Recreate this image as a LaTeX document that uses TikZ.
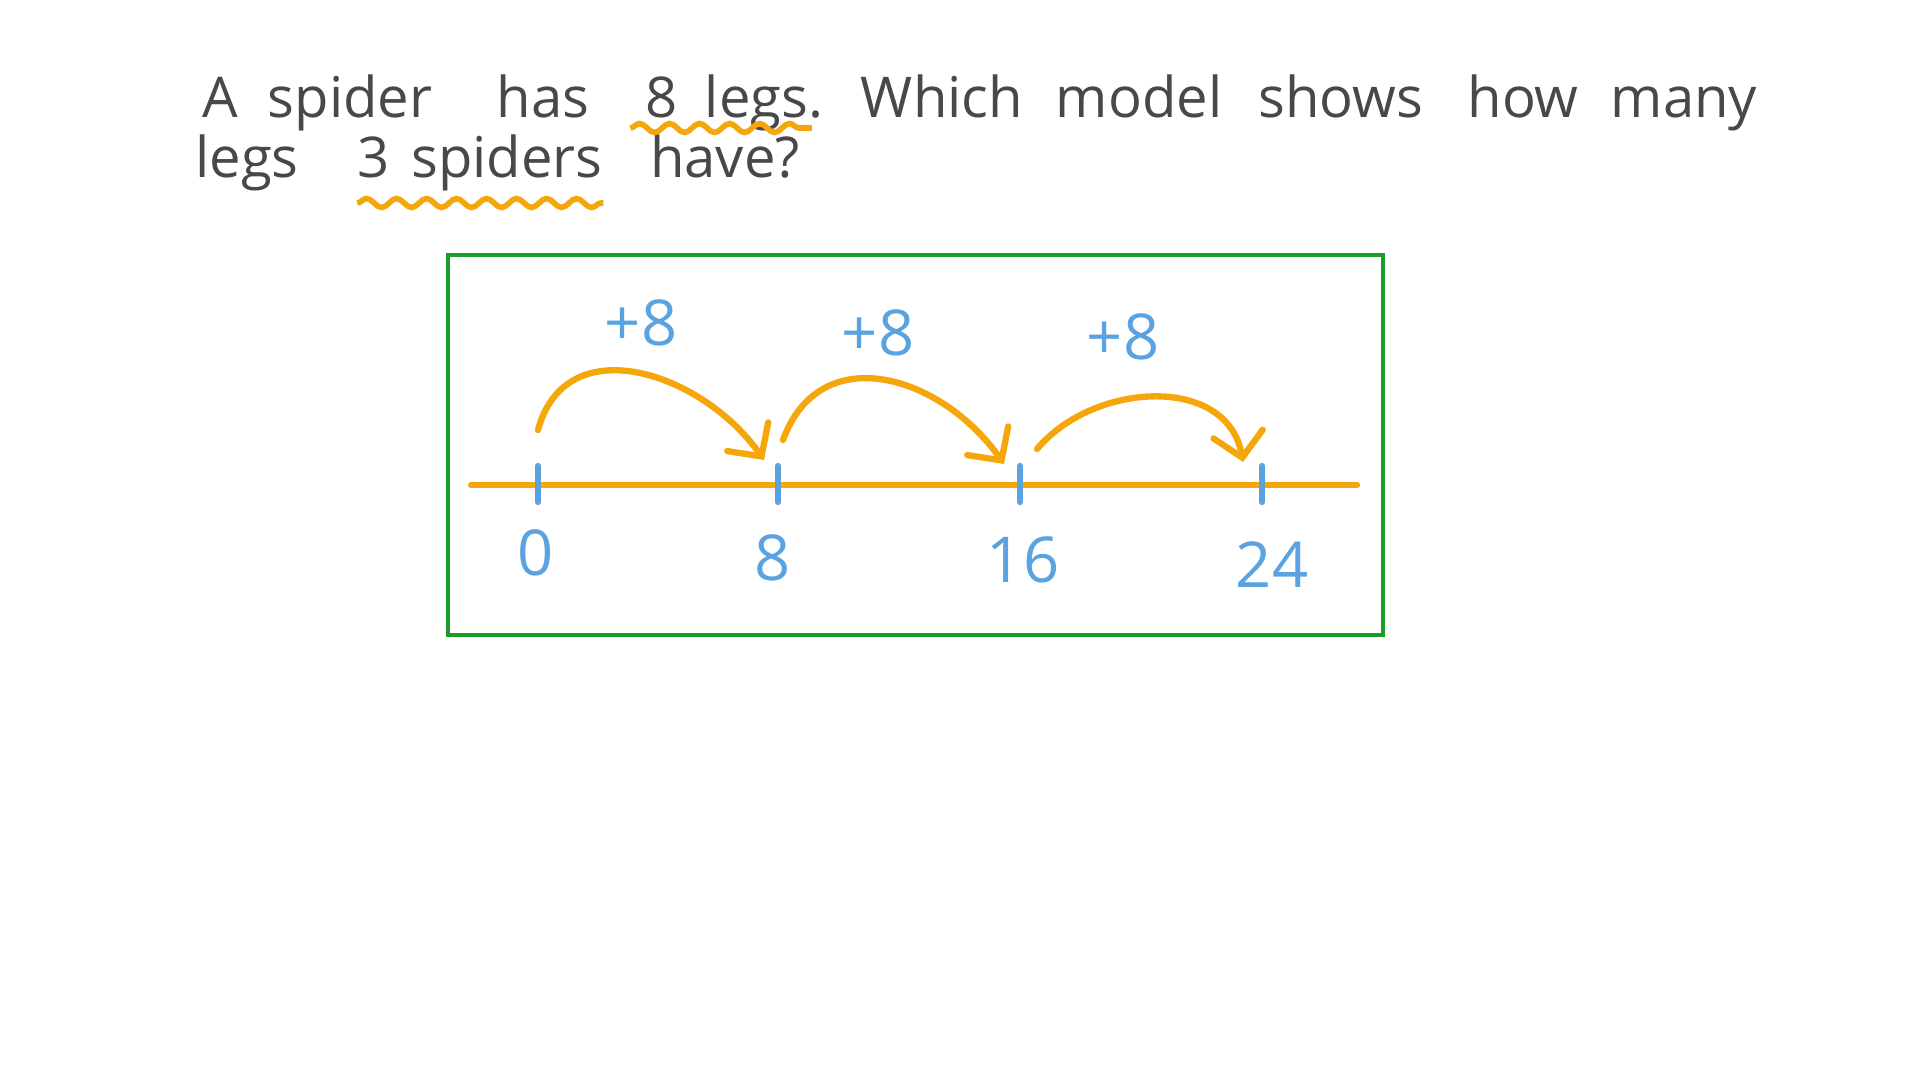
\documentclass[tikz,border=0pt]{standalone}
\usepackage{fontspec}
\setmainfont{Open Sans}
\usetikzlibrary{arrows.meta,decorations.pathmorphing}
\definecolor{inkgray}{RGB}{72,72,72}
\definecolor{jumporange}{RGB}{245,166,10}
\definecolor{tickblue}{RGB}{90,162,224}
\definecolor{boxgreen}{RGB}{24,158,40}
\tikzset{
	word/.style={anchor=base,inner sep=0pt,text=inkgray,font=\fontsize{16}{19}\selectfont},
	squiggle/.style={jumporange,line width=1.6pt,decorate,decoration={snake,amplitude=0.045cm,segment length=0.3cm}},
	numline/.style={jumporange,line width=1.8pt,line cap=round},
	tickmark/.style={tickblue,line width=1.8pt,line cap=round},
	jump/.style={jumporange,line width=1.8pt,line cap=round,-{Straight Barb[length=2.4mm,width=5mm,line cap=round]}},
	numlabel/.style={text=tickblue,inner sep=0pt,font=\fontsize{18}{22}\selectfont}
}

\begin{document}
\begin{tikzpicture}[x=1cm,y=-1cm]
	\useasboundingbox (0,0) rectangle (19.2,10.8);
	% question
	\node[word] (qA) at (2.20,1.18) {A};
	\node[word] (qspider) at (3.50,1.18) {spider};
	\node[word] (qhas) at (5.43,1.18) {has};
	\node[word] (q8) at (6.62,1.18) {8};
	\node[word] (qlegs) at (7.64,1.18) {legs.};
	\node[word] (qwhich) at (9.42,1.18) {Which};
	\node[word] (qmodel) at (11.39,1.18) {model};
	\node[word] (qshows) at (13.41,1.18) {shows};
	\node[word] (qhow) at (15.23,1.18) {how};
	\node[word] (qmany) at (16.84,1.18) {many};
	\node[word] (qlegsb) at (2.47,1.78) {legs};
	\node[word] (q3) at (3.74,1.78) {3};
	\node[word] (qspiders) at (5.07,1.78) {spiders};
	\node[word] (qhave) at (7.25,1.78) {have?};
	\draw[squiggle] ([xshift=-0.15cm,yshift=-0.1cm]q8.base west) -- ([xshift=-0.12cm,yshift=-0.1cm]qlegs.base east);
	\draw[squiggle] ([yshift=-0.25cm]q3.base west) -- ([yshift=-0.25cm]qspiders.base east);
	% model
	\draw[boxgreen,line width=1.4pt] (4.48,2.55) rectangle (13.83,6.35);
	\coordinate (nlA) at (4.71,4.85);
	\coordinate (nlB) at (13.57,4.85);
	\draw[numline] (nlA) -- (nlB);
	\coordinate (t0) at (5.38,4.85);
	\coordinate (t1) at (7.78,4.85);
	\coordinate (t2) at (10.20,4.85);
	\coordinate (t3) at (12.62,4.85);
	\draw[tickmark] ([yshift=0.19cm]t0) -- ([yshift=-0.17cm]t0);
	\draw[tickmark] ([yshift=0.19cm]t1) -- ([yshift=-0.17cm]t1);
	\draw[tickmark] ([yshift=0.19cm]t2) -- ([yshift=-0.17cm]t2);
	\draw[tickmark] ([yshift=0.19cm]t3) -- ([yshift=-0.17cm]t3);
	\node[numlabel] (l0) at (5.36,5.53) {0};
	\node[numlabel] (l1) at (7.73,5.58) {8};
	\node[numlabel] (l2) at (10.23,5.60) {16};
	\node[numlabel] (l3) at (12.72,5.65) {24};
	% jumps
	\draw[jump] ([yshift=0.55cm]t0) to[out=75,in=125,looseness=1.2] ([xshift=-0.14cm,yshift=0.25cm]t1);
	\draw[jump] ([xshift=0.05cm,yshift=0.45cm]t1) to[out=70,in=125,looseness=1.25] ([xshift=-0.16cm,yshift=0.21cm]t2);
	\draw[jump] ([xshift=0.17cm,yshift=0.36cm]t2) to[out=50,in=100,looseness=1.1] ([xshift=-0.19cm,yshift=0.23cm]t3);
	\node[numlabel] (p1) at (6.41,3.23) {+8};
	\node[numlabel] (p2) at (8.78,3.33) {+8};
	\node[numlabel] (p3) at (11.23,3.37) {+8};
\end{tikzpicture}
\end{document}
